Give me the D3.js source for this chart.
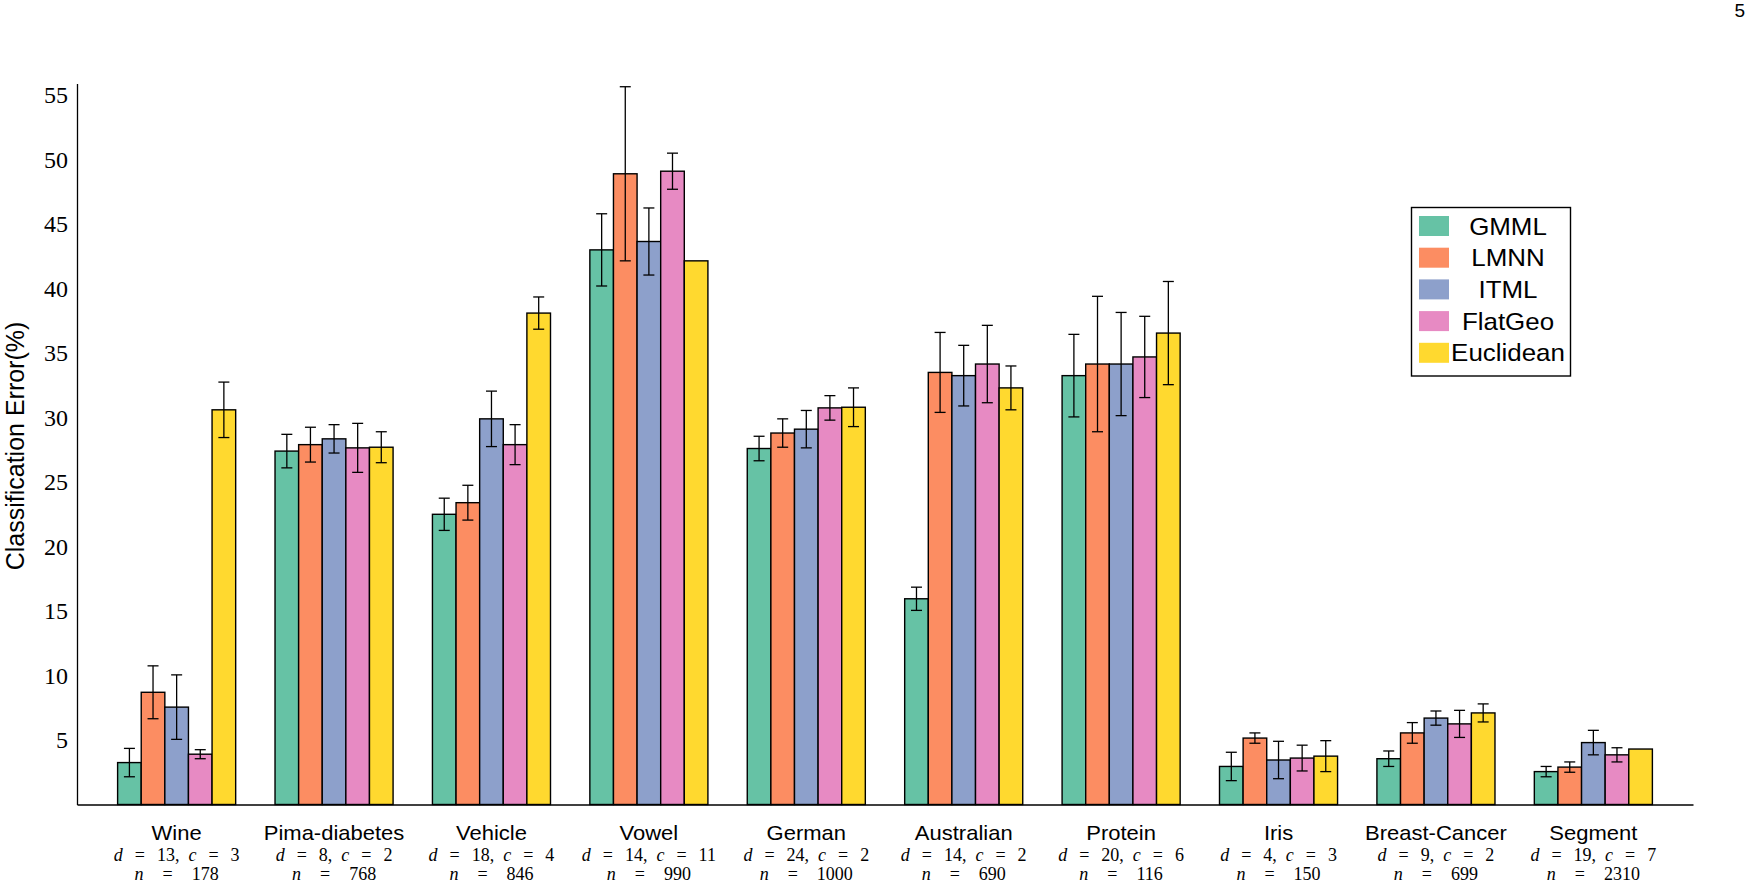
<html>
    <head>
        <meta charset="utf-8">
        <style>
            body { margin: 0; background: #fff; }
        </style>
    </head>
    <body>
        <script src="https://d3js.org/d3.v7.min.js"></script>
        <div id="my_dataviz"></div>

        <script type='text/JavaScript'>

            // datasets and their descriptions
            var datasets = ["Wine", "Pima-diabetes", "Vehicle", "Vowel", "German", "Australian", "Protein", "Iris", "Breast-Cancer", "Segment"];
            var dimD     = [13, 8, 18, 14, 24, 14, 20, 4, 9, 19];
            var nClass   = [3, 2, 4, 11, 2, 2, 6, 3, 2, 7];
            var nSamples = [178, 768, 846, 990, 1000, 690, 116, 150, 699, 2310];

            // methods
            var methods = ["GMML", "LMNN", "ITML", "FlatGeo", "Euclidean"];

            // mean classification error (%) and std per method
            var gmml       = [3.25, 27.4, 22.5, 43.0, 27.6, 15.95, 33.25, 2.95, 3.55, 2.55];
            var gmmlErr    = [1.1, 1.3, 1.25, 2.8, 0.95, 0.9, 3.2, 1.1, 0.6, 0.4];
            var lmnn       = [8.7, 27.9, 23.4, 48.9, 28.8, 33.5, 34.15, 5.15, 5.55, 2.9];
            var lmnnErr    = [2.05, 1.35, 1.35, 6.75, 1.1, 3.1, 5.25, 0.4, 0.8, 0.4];
            var itml       = [7.55, 28.35, 29.9, 43.65, 29.1, 33.25, 34.15, 3.45, 6.7, 4.8];
            var itmlErr    = [2.5, 1.1, 2.15, 2.6, 1.45, 2.35, 4.0, 1.45, 0.55, 0.95];
            var flatgeo    = [3.9, 27.65, 27.9, 49.1, 30.75, 34.15, 34.7, 3.6, 6.25, 3.85];
            var flatgeoErr = [0.35, 1.9, 1.55, 1.4, 0.95, 3.0, 3.15, 1.0, 1.05, 0.55];
            var euclid     = [30.6, 27.7, 38.1, 42.15, 30.8, 32.3, 36.55, 3.75, 7.1, 4.3];
            var euclidErr  = [2.15, 1.2, 1.25, null, 1.5, 1.7, 4.0, 1.2, 0.7, null];

            // y tick labels
            var yTicks = [5, 10, 15, 20, 25, 30, 35, 40, 45, 50, 55];

            var means = [gmml, lmnn, itml, flatgeo, euclid];
            var errs  = [gmmlErr, lmnnErr, itmlErr, flatgeoErr, euclidErr];

            // flat table for drawing
            var rows = [];
            datasets.forEach(function(ds, i) {
                methods.forEach(function(m, j) {
                    rows.push({dataset: ds, method: m, value: means[j][i], err: errs[j][i]});
                });
            });

            // plot area (note: "top" is a reserved window property, so use other names)
            var W = 1748, H = 884;
            var plotLeft = 77, plotRight = 1693, plotBottom = 804.5, plotTop = 83.5;

            var svg = d3.select("#my_dataviz")
                .append("svg")
                    .attr("width", W)
                    .attr("height", H);

            // scales
            var x = d3.scaleBand()
                .domain(datasets)
                .range([plotLeft, plotRight])
                .paddingInner(0.25)
                .paddingOuter(0.258);

            var xSub = d3.scaleBand()
                .domain(methods)
                .range([0, x.bandwidth()])
                .padding(0);

            var y = d3.scaleLinear()
                .domain([0, 55.9])
                .range([plotBottom, plotTop]);

            var color = d3.scaleOrdinal()
                .domain(methods)
                .range(['#66c2a5', '#fc8d62', '#8da0cb', '#e78ac3', '#ffd92f']);

            // bars
            svg.append("g")
                .selectAll("rect")
                .data(rows)
                .enter()
                .append("rect")
                    .attr("x", function(d) { return x(d.dataset) + xSub(d.method); })
                    .attr("y", function(d) { return y(d.value); })
                    .attr("width", xSub.bandwidth())
                    .attr("height", function(d) { return y(0) - y(d.value); })
                    .style("fill", function(d) { return color(d.method); })
                    .style("stroke", "#000")
                    .style("stroke-width", 1.4);

            // error bars
            var eb = svg.append("g")
                .selectAll("g")
                .data(rows.filter(function(d) { return d.err != null; }))
                .enter()
                .append("g")
                    .attr("transform", function(d) {
                        return "translate(" + (x(d.dataset) + xSub(d.method) + xSub.bandwidth() / 2) + ",0)";
                    })
                    .style("stroke", "#000")
                    .style("stroke-width", 1.3);
            eb.append("line")
                .attr("y1", function(d) { return y(d.value - d.err); })
                .attr("y2", function(d) { return y(d.value + d.err); });
            eb.append("line")
                .attr("x1", -5.5).attr("x2", 5.5)
                .attr("y1", function(d) { return y(d.value + d.err); })
                .attr("y2", function(d) { return y(d.value + d.err); });
            eb.append("line")
                .attr("x1", -5.5).attr("x2", 5.5)
                .attr("y1", function(d) { return y(d.value - d.err); })
                .attr("y2", function(d) { return y(d.value - d.err); });

            // Y axis
            var yAxis = svg.append("g")
                .attr("transform", "translate(" + plotLeft + ",0)")
                .call(d3.axisLeft(y).tickValues(yTicks).tickSize(0).tickSizeOuter(0).tickPadding(9));
            yAxis.select(".domain").style("stroke", "#000").style("stroke-width", 1.3);
            yAxis.selectAll("text")
                .style("font-family", "'Liberation Serif', serif")
                .style("font-size", "24px")
                .style("fill", "#000");

            // X axis line
            var xAxis = svg.append("g")
                .attr("transform", "translate(0," + plotBottom + ")")
                .call(d3.axisBottom(x).tickSize(0).tickSizeOuter(0).tickFormat(""));
            xAxis.select(".domain").style("stroke", "#000").style("stroke-width", 1.3);

            // X labels: name, then d/c and n in math style
            var lab = svg.append("g")
                .selectAll("g")
                .data(datasets)
                .enter()
                .append("g")
                    .attr("transform", function(d) { return "translate(" + (x(d) + x.bandwidth() / 2) + ",0)"; })
                    .attr("text-anchor", "middle");

            lab.append("text")
                .attr("transform", "translate(0,840) scale(1.1,1)")
                .style("font-family", "'Liberation Sans', Arial, sans-serif")
                .style("font-size", "20px")
                .text(function(d) { return d; });

            var l1 = lab.append("text")
                .attr("y", 860.5)
                .style("font-family", "'Liberation Serif', serif")
                .style("font-size", "18px");
            l1.append("tspan").style("font-style", "italic").text("d");
            l1.append("tspan").attr("dx", 12).text("=");
            l1.append("tspan").attr("dx", 12).text(function(d, i) { return dimD[i] + ","; });
            l1.append("tspan").attr("dx", 9).style("font-style", "italic").text("c");
            l1.append("tspan").attr("dx", 12).text("=");
            l1.append("tspan").attr("dx", 12).text(function(d, i) { return nClass[i]; });

            var l2 = lab.append("text")
                .attr("y", 879.5)
                .style("font-family", "'Liberation Serif', serif")
                .style("font-size", "18px");
            l2.append("tspan").style("font-style", "italic").text("n");
            l2.append("tspan").attr("dx", 19).text("=");
            l2.append("tspan").attr("dx", 19).text(function(d, i) { return nSamples[i]; });

            // Y label
            svg.append("text")
                .attr("transform", "translate(24,446) rotate(-90)")
                .attr("text-anchor", "middle")
                .style("font-family", "'Liberation Sans', Arial, sans-serif")
                .style("font-size", "25px")
                .text("Classification Error(%)");

            // legend
            var legend = svg.append("g");
            legend.append("rect")
                .attr("x", 1411.5).attr("y", 207.5)
                .attr("width", 159).attr("height", 168.5)
                .style("fill", "#fff")
                .style("stroke", "#000")
                .style("stroke-width", 1.4);
            var li = legend.selectAll("g.item")
                .data(methods)
                .enter()
                .append("g")
                    .attr("class", "item")
                    .attr("transform", function(d, i) { return "translate(0," + (226 + i * 31.7) + ")"; });
            li.append("rect")
                .attr("x", 1419).attr("y", -10)
                .attr("width", 30).attr("height", 20)
                .style("fill", function(d) { return color(d); });
            li.append("text")
                .attr("transform", "translate(1508,0) scale(1.08,1)")
                .attr("dy", "0.36em")
                .attr("text-anchor", "middle")
                .style("font-family", "'Liberation Sans', Arial, sans-serif")
                .style("font-size", "24px")
                .text(function(d) { return d; });

            // page number
            svg.append("text")
                .attr("x", 1745).attr("y", 17)
                .attr("text-anchor", "end")
                .style("font-family", "'Liberation Sans', Arial, sans-serif")
                .style("font-size", "19px")
                .text("5");
        </script>
    </body>
</html>
